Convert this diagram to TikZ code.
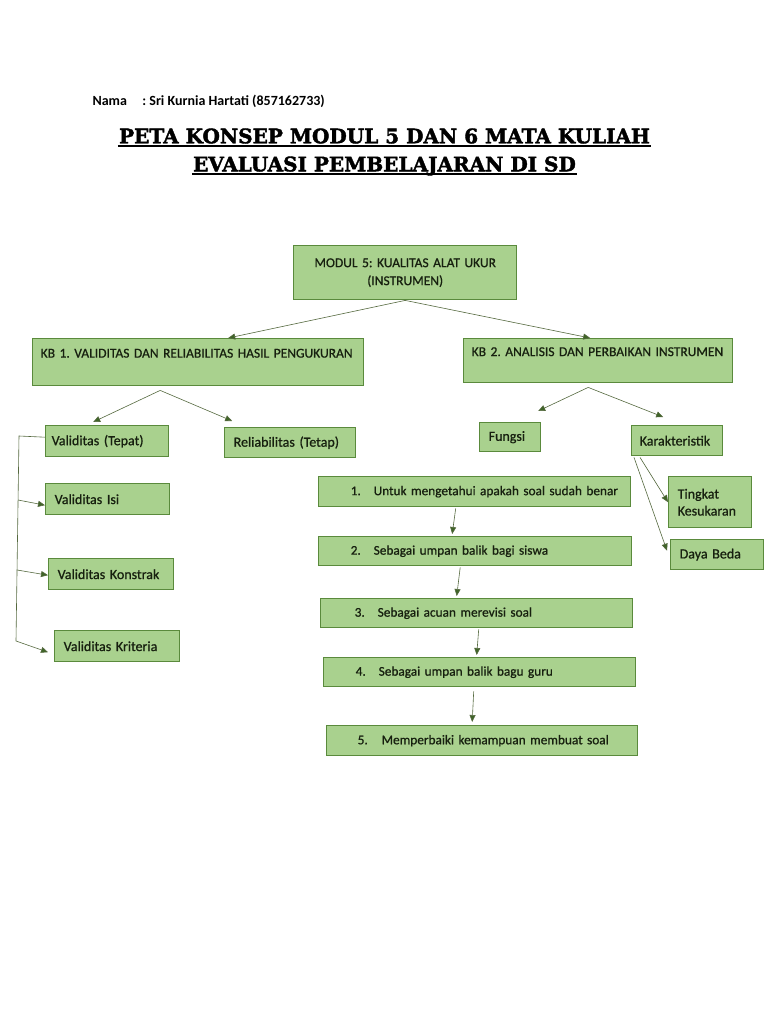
\documentclass[tikz,border=0pt]{standalone}
\usepackage{fontspec}
\setmainfont{Carlito}
\newfontfamily\boxfont[FakeBold=0.8]{Carlito}
\newfontfamily\titlefont[BoldFont={DejaVu Serif Bold}, BoldFeatures={FakeBold=2}]{DejaVu Serif}
\usepackage{xcolor}
\usetikzlibrary{arrows.meta, positioning, calc}
\definecolor{boxfill}{HTML}{A9D18E}
\definecolor{boxline}{HTML}{5A8A3C}
\definecolor{arrline}{HTML}{55693F}
\definecolor{arrhead}{HTML}{3F6428}
\definecolor{txt}{HTML}{17200F}
\frenchspacing
\hyphenpenalty=10000

\begin{document}
\begin{tikzpicture}[
    x=1pt, y=-1pt,
    every node/.style={font=\boxfont\fontsize{14}{17}\selectfont, text=txt},
    box/.style={rectangle, draw=boxline, fill=boxfill, line width=1.4pt, anchor=north west, inner xsep=9pt, inner ysep=0pt, align=left},
    capbox/.style={box, font=\boxfont\fontsize{13.5}{18}\selectfont},
    listbox/.style={box, inner xsep=3pt, font=\boxfont\fontsize{13.3}{16}\selectfont},
    titletext/.style={font=\titlefont\bfseries\fontsize{20}{24}\selectfont, text=black, inner sep=1pt},
    arrow/.style={-{Triangle[length=7pt, width=6pt, fill=arrhead]}, line width=0.6pt, draw=arrline},
    link/.style={line width=0.6pt, draw=arrline}
]
\useasboundingbox[fill=white] (0,0) rectangle (768,1024);

% Heading
\node[anchor=west, font=\bfseries\fontsize{14}{17}\selectfont, text=black] (nama) at (89,101) {Nama\hspace{1.1em}: Sri Kurnia Hartati (857162733)};
\node[titletext] (title1) at (384.5,136) {PETA KONSEP MODUL 5 DAN 6 MATA KULIAH};
\node[titletext] (title2) at (384.5,166) {EVALUASI PEMBELAJARAN DI SD};
\draw[line width=2pt, black] ($(title1.base west)+(0,3)$) -- ($(title1.base east)+(0,3)$);
\draw[line width=2pt, black] ($(title2.base west)+(0,3)$) -- ($(title2.base east)+(0,3)$);

% Nodes
\node (mod5) [capbox, align=center, text width=205pt, minimum height=54pt] at (293,245) {MODUL 5: KUALITAS ALAT UKUR\\(INSTRUMEN)};
\node (kb1) [capbox, inner xsep=8pt, text width=315pt, minimum height=47pt] at (32,338) {KB 1. VALIDITAS DAN RELIABILITAS HASIL PENGUKURAN\\\mbox{}};
\node (kb2) [capbox, inner xsep=8pt, text width=253pt, minimum height=44pt] at (463,338) {KB 2. ANALISIS DAN PERBAIKAN INSTRUMEN\\\mbox{}};

\node (vtepat) [box, inner xsep=6pt, text width=111pt, minimum height=31pt] at (45,425) {Validitas (Tepat)};
\node (reliab) [box, text width=113pt, minimum height=30pt] at (224,427) {Reliabilitas (Tetap)};
\node (visi) [box, text width=106pt, minimum height=31pt] at (45,483) {Validitas Isi};
\node (vkons) [box, text width=107pt, minimum height=31pt] at (48,558) {Validitas Konstrak};
\node (vkrit) [box, text width=107pt, minimum height=31pt] at (54,630) {Validitas Kriteria};

\node (fungsi) [box, text width=43pt, minimum height=29pt] at (479,422) {Fungsi};
\node (karak) [box, inner xsep=8pt, text width=75pt, minimum height=30pt] at (631,425) {Karakteristik};
\node (tingkat) [box, text width=65pt, minimum height=51pt] at (668,476) {Tingkat\\Kesukaran};
\node (daya) [box, text width=75pt, minimum height=30pt] at (670,539) {Daya Beda};

\node (b1) [listbox, text width=306pt, minimum height=30pt] at (318,476) {\hspace*{29pt}\makebox[23pt][l]{1.}Untuk mengetahui apakah soal sudah benar};
\node (b2) [listbox, text width=307pt, minimum height=29pt] at (318,536) {\hspace*{29pt}\makebox[23pt][l]{2.}Sebagai umpan balik bagi siswa};
\node (b3) [listbox, text width=306pt, minimum height=29pt] at (320,598) {\hspace*{31pt}\makebox[23pt][l]{3.}Sebagai acuan merevisi soal};
\node (b4) [listbox, text width=306pt, minimum height=29pt] at (323,657) {\hspace*{29pt}\makebox[23pt][l]{4.}Sebagai umpan balik bagu guru};
\node (b5) [listbox, text width=305pt, minimum height=30pt] at (326,725) {\hspace*{28pt}\makebox[24pt][l]{5.}Memperbaiki kemampuan membuat soal};

\coordinate (sp0) at (19,436);
\coordinate (sp1) at (18,500);
\coordinate (sp2) at (17,570);
\coordinate (sp3) at (16,641);

% Arrows
\draw [arrow] (mod5.south) -- ($(kb1.north)+(30,0)$);
\draw [arrow] (mod5.south) -- ($(kb2.north)+(-8,0)$);
\draw [arrow] ($(kb1.south)+(-38,4)$) -- ($(vtepat.north)+(-14,-3)$);
\draw [arrow] ($(kb1.south)+(-38,4)$) -- ($(reliab.north)+(-58,-6)$);
\draw [arrow] ($(kb2.south)+(-10,4)$) -- ($(fungsi.north)+(28,-11)$);
\draw [arrow] ($(kb2.south)+(-10,4)$) -- ($(karak.north)+(-14,-8)$);

\draw [link] ($(vtepat.west)+(0,-4)$) -- (sp0) -- (sp3);
\draw [arrow] (sp1) -- ($(visi.west)+(0,6)$);
\draw [arrow] (sp2) -- ($(vkons.west)+(0,1)$);
\draw [arrow] (sp3) -- ($(vkrit.west)+(-6,6)$);

\draw [arrow] ($(karak.south west)+(9,1)$) -- (tingkat.west);
\draw [arrow] ($(karak.south west)+(3,1)$) -- ($(daya.west)+(-3,-4)$);

\draw [arrow] ($(b1.south)+(-19,1)$) -- ($(b2.north)+(-23,-2)$);
\draw [arrow] ($(b2.south)+(-15,1)$) -- ($(b3.north)+(-20,-2)$);
\draw [arrow] ($(b3.south)+(2,1)$) -- ($(b4.north)+(-3,-2)$);
\draw [arrow] ($(b4.south)+(-6,4)$) -- ($(b5.north)+(-10,-3)$);

\end{tikzpicture}
\end{document}
